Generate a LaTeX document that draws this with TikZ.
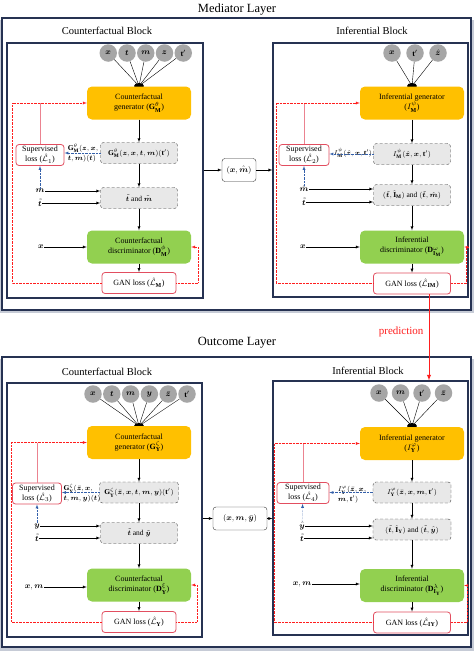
\documentclass[tikz,border=0pt]{standalone}
\usepackage{amsmath}
\usepackage{fontspec}
\setmainfont{Liberation Serif}
\usepackage{bm}
\usepackage{tikz}

\definecolor{layerblue}{RGB}{38,50,82}
\definecolor{shadegray}{RGB}{198,203,214}
\definecolor{genorange}{RGB}{255,192,0}
\definecolor{discgreen}{RGB}{146,208,80}
\definecolor{fakegray}{RGB}{232,232,232}
\definecolor{vargray}{RGB}{166,166,166}
\definecolor{lossred}{RGB}{226,78,96}
\definecolor{feedred}{RGB}{255,30,30}
\definecolor{supblue}{RGB}{52,96,170}

\tikzset{
	>= latex,
	layer/.style = {draw = layerblue, line width = 1.4pt, fill = white},
	block/.style = {draw = layerblue, line width = 1.1pt, fill = white, inner sep = 0},
	title/.style = {font = \fontsize{10.5}{12}\selectfont},
	invar/.style = {circle, fill = vargray, minimum size = 17.5, inner sep = 0, font = \fontsize{8}{9}\selectfont},
	invtext/.style = {inner sep = 0.5pt, font = \fontsize{8}{9}\selectfont},
	gen/.style = {fill = genorange, rounded corners = 5pt, align = center, minimum width = 104, minimum height = 33, font = \fontsize{8}{10}\selectfont},
	disc/.style = {gen, fill = discgreen},
	fake/.style = {draw = black!75, densely dashed, fill = fakegray, rounded corners = 3pt, inner sep = 1pt, minimum width = 77, minimum height = 21, font = \fontsize{7.5}{9}\selectfont},
	loss/.style = {draw = lossred, line width = 0.8pt, fill = white, rounded corners = 3pt, align = center, inner sep = 1pt, minimum height = 21, font = \fontsize{8}{10}\selectfont},
	outlabel/.style = {align = left, inner sep = 0, font = \fontsize{7.5}{10}\selectfont},
	midbox/.style = {draw = black!80, rounded corners = 3pt, minimum height = 23, font = \fontsize{8}{9}\selectfont},
	feed/.style = {draw = feedred, densely dotted, ->},
	branch/.style = {draw = lossred!70},
	sup/.style = {draw = supblue, densely dotted, ->},
	pred/.style = {draw = feedred, line width = 0.9pt, ->}
}

\begin{document}
\begin{tikzpicture}[x = 1pt, y = -1pt]
	\useasboundingbox (0, 0) rectangle (474, 651);
	% layers
	\fill[shadegray] (0, 20) rectangle (474, 313);
	\draw[layer] (2, 18) rectangle (471, 310);
	\fill[shadegray] (0, 359) rectangle (474, 651);
	\draw[layer] (2, 357) rectangle (471, 647);
	\node at (237, 10) [font = \fontsize{12.5}{14}\selectfont] {Mediator Layer};
	\node at (237, 343) [font = \fontsize{12.5}{14}\selectfont] {Outcome Layer};
	% blocks
	\node (blockCM) at (105, 170.5) [block, minimum width = 196, minimum height = 255] {};
	\node (blockIM) at (370.5, 170) [block, minimum width = 195, minimum height = 254] {};
	\node (blockCY) at (104.5, 510) [block, minimum width = 195, minimum height = 254] {};
	\node (blockIY) at (370.5, 508) [block, minimum width = 195, minimum height = 254] {};
	\node at (107, 31) [title] {Counterfactual Block};
	\node at (372, 31) [title] {Inferential Block};
	\node at (107, 372) [title] {Counterfactual Block};
	\node at (368, 371) [title] {Inferential Block};

	% counterfactual block, mediator
	\foreach \lab [count = \i] in {\bm{x}, \bm{t}, \bm{m}, \bm{z}, \mathbf{t}'}
		\node (cmv\i) at (89.5 + 18.75*\i, 53) [invar] {$\lab$};
	\coordinate (cmjoin) at (139, 86);
	\foreach \i in {1, ..., 5}
		\draw (cmv\i) -- (cmjoin);
	\fill (cmjoin) ellipse [x radius = 5, y radius = 3];
	\node (cmgen) at (139, 103) [gen] {Counterfactual\\generator ($\mathbf{G}^{\theta}_{\mathbf{M}}$)};
	\node (cmfake) at (139, 153) [fake] {$\mathbf{G}^{\theta}_{\mathbf{M}}(\bm{z}, \bm{x}, \bm{t}, \bm{m})(\mathbf{t}')$};
	\node (cmsup) at (40, 155) [loss, minimum width = 48] {Supervised\\loss ($\hat{\mathcal{L}}_1$)};
	\node (cmout) at (83, 153) [outlabel] {$\mathbf{G}^{\theta}_{\mathbf{M}}(\bm{z}, \bm{x},$\\$\bm{t}, \bm{m})(\bm{t})$};
	\node (cmm) at (40, 191) [invtext] {$\bm{m}$};
	\node (cmt) at (40, 203) [invtext] {$\tilde{\bm{t}}$};
	\node (cmpair) at (139, 198) [fake] {$\tilde{\bm{t}}$ and $\tilde{\bm{m}}$};
	\node (cmdisc) at (139, 247) [disc] {Counterfactual\\discriminator ($\mathbf{D}^{\phi}_{\mathbf{M}}$)};
	\node (cmx) at (41, 247) [invtext] {$\bm{x}$};
	\node (cmgan) at (139, 283) [loss, minimum width = 74] {GAN loss ($\hat{\mathcal{L}}_{\mathbf{M}}$)};
	\draw[->] (cmgen) -- (cmfake);
	\draw[->] (cmfake) -- (cmpair);
	\draw[->] (cmpair) -- (cmdisc);
	\draw[->] (cmdisc) -- (cmgan);
	\draw[->] (cmm) -- (cmm -| cmpair.west);
	\draw[->] (cmt) -- (cmt -| cmpair.west);
	\draw[->] (cmx) -- (cmdisc);
	\draw[sup] (cmfake.west) -- (cmsup.east |- cmfake.west);
	\draw[sup] (cmm) -- (cmsup);
	\draw[branch] (cmsup) -- (cmsup |- cmgen);
	\draw[feed] (cmgan) -| (12, 103) -- (cmgen);
	\draw[feed] (cmgan) -| (198, 247) -- (cmdisc);

	% inferential block, mediator
	\foreach \lab/\px [count = \i] in {\bm{x}/392, \mathbf{t}'/415, \hat{\bm{z}}/438}
		\node (imv\i) at (\px, 53) [invar] {$\lab$};
	\coordinate (imjoin) at (412, 86);
	\foreach \i in {1, 2, 3}
		\draw (imv\i) -- (imjoin);
	\fill (imjoin) ellipse [x radius = 5, y radius = 3];
	\node (imgen) at (412, 103) [gen] {Inferential generator\\($I^{\psi}_{\mathbf{M}}$)};
	\node (imfake) at (412, 154) [fake] {$I^{\psi}_{\mathbf{M}}(\hat{\bm{z}}, \bm{x}, \mathbf{t}')$};
	\node (imsup) at (304, 155) [loss, minimum width = 50] {Supervised\\loss ($\hat{\mathcal{L}}_2$)};
	\node (imout) at (353, 153) [outlabel] {$I^{\psi}_{\mathbf{M}}(\hat{\bm{z}}, \bm{x}, \mathbf{t}')$};
	\node (imm) at (304, 189) [invtext] {$\hat{\bm{m}}$};
	\node (imt) at (304, 202) [invtext] {$\tilde{\bm{t}}$};
	\node (impair) at (412, 195) [fake] {$(\tilde{\bm{t}}, \hat{\mathbf{I}}_{\mathbf{M}})$ and $(\tilde{\bm{t}}, \hat{\bm{m}})$};
	\node (imdisc) at (412, 247) [disc] {Inferential\\discriminator ($\mathbf{D}^{\omega}_{\mathbf{I_M}}$)};
	\node (imx) at (303, 247) [invtext] {$\bm{x}$};
	\node (imgan) at (412, 283.5) [loss, minimum width = 77] {GAN loss ($\hat{\mathcal{L}}_{\mathbf{IM}}$)};
	\draw[->] (imgen) -- (imfake);
	\draw[->] (imfake) -- (impair);
	\draw[->] (impair) -- (imdisc);
	\draw[->] (imdisc) -- (imgan);
	\draw[->] (imm) -- (imm -| impair.west);
	\draw[->] (imt) -- (imt -| impair.west);
	\draw[->] (imx) -- (imdisc);
	\draw[sup] (imfake.west) -- (imsup.east |- imfake.west);
	\draw[sup] (imm) -- (imsup);
	\draw[branch] (imsup) -- (imsup |- imgen);
	\draw[feed] (imgan) -| (276, 103) -- (imgen);
	\draw[feed] (imgan) -| (466, 247) -- (imdisc);

	% between the blocks
	\node (mbox) at (239, 170) [midbox, minimum width = 34] {$(\bm{x}, \hat{\bm{m}})$};
	\draw[->] (blockCM.east |- mbox) -- (mbox);
	\draw[->] (mbox) -- (blockIM.west |- mbox);
	\coordinate (predx) at (429, 0);
	\draw[pred] (imgan.south -| predx) -- (predx |- blockIY.north);
	\node at (427, 332) [anchor = east, text = feedred, font = \fontsize{11}{12}\selectfont] {prediction};

	% counterfactual block, outcome
	\foreach \lab [count = \i] in {\bm{x}, \bm{t}, \bm{m}, \bm{y}, \bar{\bm{z}}, \mathbf{t}'}
		\node (cyv\i) at (74.2 + 18.8*\i, 394) [invar] {$\lab$};
	\coordinate (cyjoin) at (139, 426);
	\foreach \i in {1, ..., 6}
		\draw (cyv\i) -- (cyjoin);
	\fill (cyjoin) ellipse [x radius = 5, y radius = 3];
	\node (cygen) at (139, 442.5) [gen] {Counterfactual\\generator ($\mathbf{G}^{\zeta}_{\mathbf{Y}}$)};
	\node (cyfake) at (139, 492.5) [fake, minimum width = 79] {$\mathbf{G}^{\zeta}_{\mathbf{Y}}(\bar{\bm{z}}, \bm{x}, \bm{t}, \bm{m}, \bm{y})(\mathbf{t}')$};
	\node (cysup) at (37, 493.5) [loss, minimum width = 49] {Supervised\\loss ($\hat{\mathcal{L}}_3$)};
	\node (cyout) at (82, 493) [outlabel] {$\mathbf{G}^{\zeta}_{\mathbf{Y}}(\bar{\bm{z}}, \bm{x},$\\$\bm{t}, \bm{m}, \bm{y})(\bm{t})$};
	\node (cyy) at (37, 526) [invtext] {$\bm{y}$};
	\node (cyt) at (37, 538) [invtext] {$\tilde{\bm{t}}$};
	\node (cypair) at (139, 533) [fake] {$\tilde{\bm{t}}$ and $\tilde{\bm{y}}$};
	\node (cydisc) at (139, 585) [disc] {Counterfactual\\discriminator ($\mathbf{D}^{\xi}_{\mathbf{Y}}$)};
	\node (cyx) at (34, 587) [invtext] {$\bm{x}, \bm{m}$};
	\node (cygan) at (139, 622) [loss, minimum width = 74] {GAN loss ($\hat{\mathcal{L}}_{\mathbf{Y}}$)};
	\draw[->] (cygen) -- (cyfake);
	\draw[->] (cyfake) -- (cypair);
	\draw[->] (cypair) -- (cydisc);
	\draw[->] (cydisc) -- (cygan);
	\draw[->] (cyy) -- (cyy -| cypair.west);
	\draw[->] (cyt) -- (cyt -| cypair.west);
	\draw[->] (cyx) -- (cyx -| cydisc.west);
	\draw[sup] (cyfake.west) -- (cysup.east |- cyfake.west);
	\draw[sup] (cyy) -- (cysup);
	\draw[branch] (cysup) -- (cysup |- cygen);
	\draw[feed] (cygan) -| (11, 442.5) -- (cygen);
	\draw[feed] (cygan) -| (197, 585) -- (cydisc);

	% inferential block, outcome
	\foreach \lab [count = \i] in {\bm{x}, \bm{m}, \mathbf{t}', \bar{\bm{z}}}
		\node (iyv\i) at (357.5 + 21.5*\i, 393) [invar] {$\lab$};
	\coordinate (iyjoin) at (412, 426);
	\foreach \i in {1, ..., 4}
		\draw (iyv\i) -- (iyjoin);
	\fill (iyjoin) ellipse [x radius = 5, y radius = 3];
	\node (iygen) at (412, 443.5) [gen] {Inferential generator\\($I^{\varphi}_{\mathbf{Y}}$)};
	\node (iyfake) at (412, 492.5) [fake, minimum width = 78] {$I^{\varphi}_{\mathbf{Y}}(\bar{\bm{z}}, \bm{x}, \bm{m}, \mathbf{t}')$};
	\node (iysup) at (303, 493) [loss, minimum width = 52] {Supervised\\loss ($\hat{\mathcal{L}}_4$)};
	\node (iyout) at (352, 495) [outlabel] {$I^{\varphi}_{\mathbf{Y}}(\bar{\bm{z}}, \bm{x},$\\$\bm{m}, \mathbf{t}')$};
	\node (iyy) at (302, 526) [invtext] {$\hat{\bm{y}}$};
	\node (iyt) at (302, 538) [invtext] {$\tilde{\bm{t}}$};
	\node (iypair) at (412, 529.5) [fake, minimum width = 78] {$(\tilde{\bm{t}}, \hat{\mathbf{I}}_{\mathbf{Y}})$ and $(\tilde{\bm{t}}, \hat{\bm{y}})$};
	\node (iydisc) at (412, 585.5) [disc] {Inferential\\discriminator ($\mathbf{D}^{\lambda}_{\mathbf{I_Y}}$)};
	\node (iyx) at (302, 584) [invtext] {$\bm{x}, \bm{m}$};
	\node (iygan) at (412, 622.5) [loss, minimum width = 77] {GAN loss ($\hat{\mathcal{L}}_{\mathbf{IY}}$)};
	\draw[->] (iygen) -- (iyfake);
	\draw[->] (iyfake) -- (iypair);
	\draw[->] (iypair) -- (iydisc);
	\draw[->] (iydisc) -- (iygan);
	\draw[->] (iyy) -- (iyy -| iypair.west);
	\draw[->] (iyt) -- (iyt -| iypair.west);
	\draw[->] (iyx) -- (iyx -| iydisc.west);
	\draw[sup] (iyfake.west) -- (iysup.east |- iyfake.west);
	\draw[sup] (iyy) -- (iysup);
	\draw[branch] (iysup) -- (iysup |- iygen);
	\draw[feed] (iygan) -| (274, 443.5) -- (iygen);
	\draw[feed] (iygan) -| (467, 585.5) -- (iydisc);

	% between the blocks
	\node (ybox) at (240, 518.5) [midbox, minimum width = 54] {$(\bm{x}, \bm{m}, \bar{\bm{y}})$};
	\draw[->] (blockCY.east |- ybox) -- (ybox);
	\draw[->] (ybox) -- (blockIY.west |- ybox);
\end{tikzpicture}
\end{document}
